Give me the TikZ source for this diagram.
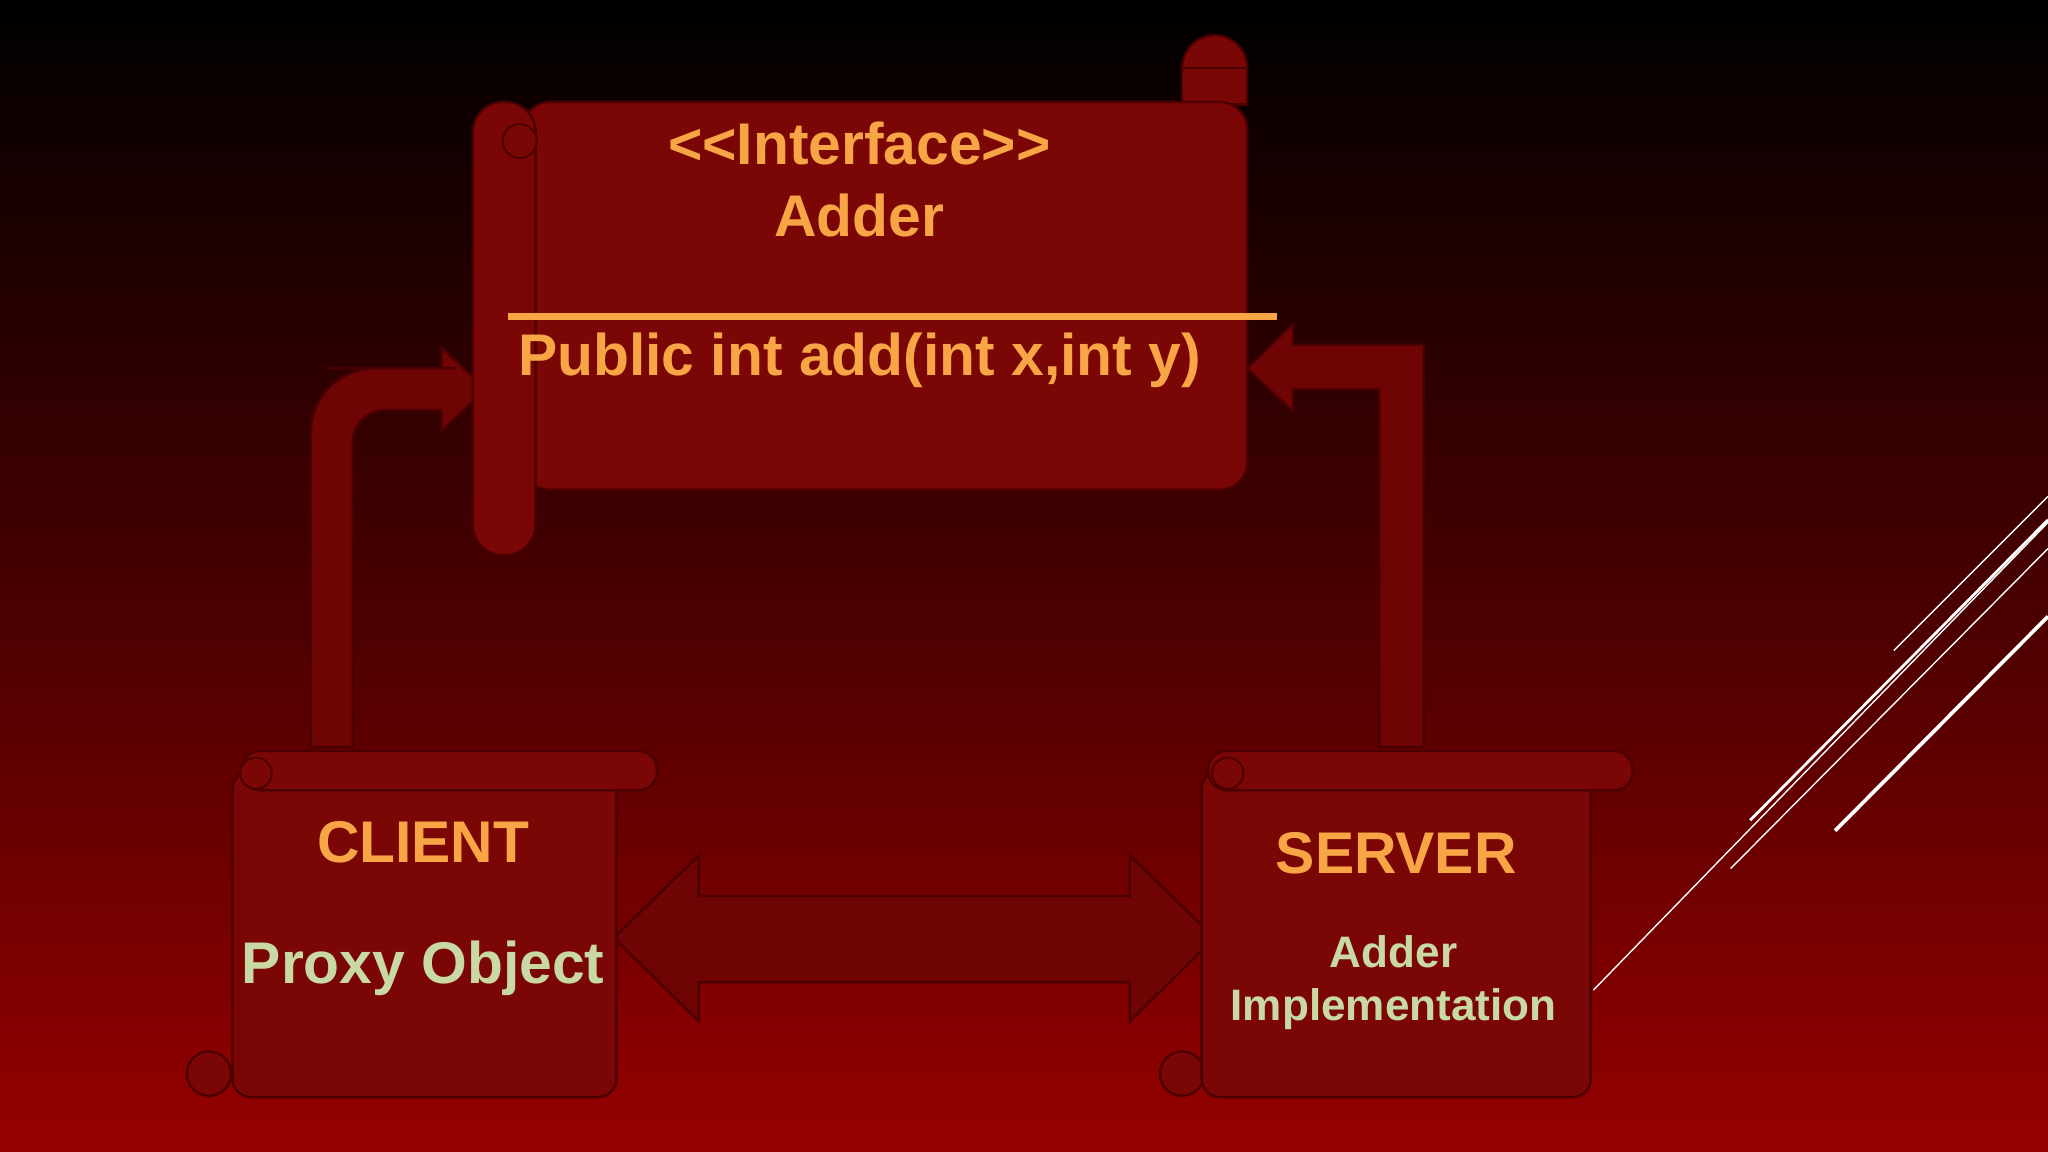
\documentclass[tikz,border=0pt]{standalone}
\usepackage{fontspec}
\setmainfont{Liberation Sans}
\usetikzlibrary{shadings}
\definecolor{scr}{HTML}{7A0606}
\definecolor{scrd}{HTML}{4A0000}
\definecolor{arr}{HTML}{6E0404}
\definecolor{org}{HTML}{F7A545}
\definecolor{grn}{HTML}{C9D9A3}
\tikzset{
  scroll/.style={fill=scr,draw=scrd,line width=0.5pt},
  fat/.style={fill=arr,draw=scrd,line width=0.5pt},
  ttl/.style={text=org,font=\bfseries\fontsize{12.8}{15}\selectfont},
  sub/.style={text=grn,font=\bfseries\fontsize{9.6}{11.5}\selectfont,align=center},
}
\begin{document}
\begin{tikzpicture}[x=0.01cm,y=-0.01cm]
\useasboundingbox (0,0) rectangle (1568,882);
\shade[shading=axis,shading angle=160,top color=black,bottom color={rgb,255:red,150;green,0;blue,0},middle color={rgb,255:red,70;green,0;blue,0}] (0,0) rectangle (1568,882);
% white lines
\draw[white,line width=0.3pt] (1220,758) -- (1568,400);
\draw[white,line width=0.3pt] (1325,665) -- (1568,420);
\draw[white,line width=0.6pt] (1340,628) -- (1568,398);
\draw[white,line width=0.8pt] (1405,636) -- (1568,472);
\draw[white,line width=0.3pt] (1450,498) -- (1568,380);
% bent arrows
\path[fat] (238,572) [rounded corners=14pt]-- (238,282) -- (300,282) [sharp corners]-- (338,282) -- (338,266) -- (372,298) -- (338,330) -- (338,314) -- (300,314) [rounded corners=7pt]-- (270,314) -- (270,420) [sharp corners]-- (270,572) -- cycle;
\path[fat] (1090,572) -- (1090,264) -- (990,264) -- (990,248) -- (955,282) -- (990,315) -- (990,298) -- (1056,298) -- (1056,572) -- cycle;
% double arrow
\path[fat] (470,718) -- (535,655) -- (535,686) -- (865,686) -- (865,655) -- (930,718) -- (865,782) -- (865,752) -- (535,752) -- (535,782) -- cycle;
% top scroll
\draw[scroll] (930,52) circle[radius=25];
\path[scroll] (905,52) rectangle (955,80);
\path[scroll,rounded corners=6pt] (400,78) rectangle (955,375);
\path[scroll,rounded corners=6.5pt] (362,78) rectangle (410,425);
\draw[scrd,fill=scr] (398,108) circle[radius=13];
\node[ttl] (iface) at (658,110) {<{}<Interface>{}>};
\node[ttl] (adder) at (658,165) {Adder};
\draw[org,line width=1.5pt] (389,242) -- (978,242);
\node[ttl] (meth) at (658,276) {Public int add(int x,int y)};
% client scroll
\draw[scroll] (160,822) circle[radius=17];
\path[scroll,rounded corners=4pt] (178,590) rectangle (472,840);
\path[scroll,rounded corners=4pt] (185,575) rectangle (503,605);
\draw[scrd,fill=scr] (196,592) circle[radius=12];
\node[ttl] (client) at (324,645) {CLIENT};
\node[sub,font=\bfseries\fontsize{12.8}{15}\selectfont] (proxy) at (324,741) {Proxy Object};
% server scroll
\draw[scroll] (905,822) circle[radius=17];
\path[scroll,rounded corners=4pt] (920,590) rectangle (1218,840);
\path[scroll,rounded corners=4pt] (925,575) rectangle (1250,605);
\draw[scrd,fill=scr] (940,592) circle[radius=12];
\node[ttl] (server) at (1069,653) {SERVER};
\node[sub] (impl) at (1067,752) {Adder\\Implementation};
\end{tikzpicture}
\end{document}
